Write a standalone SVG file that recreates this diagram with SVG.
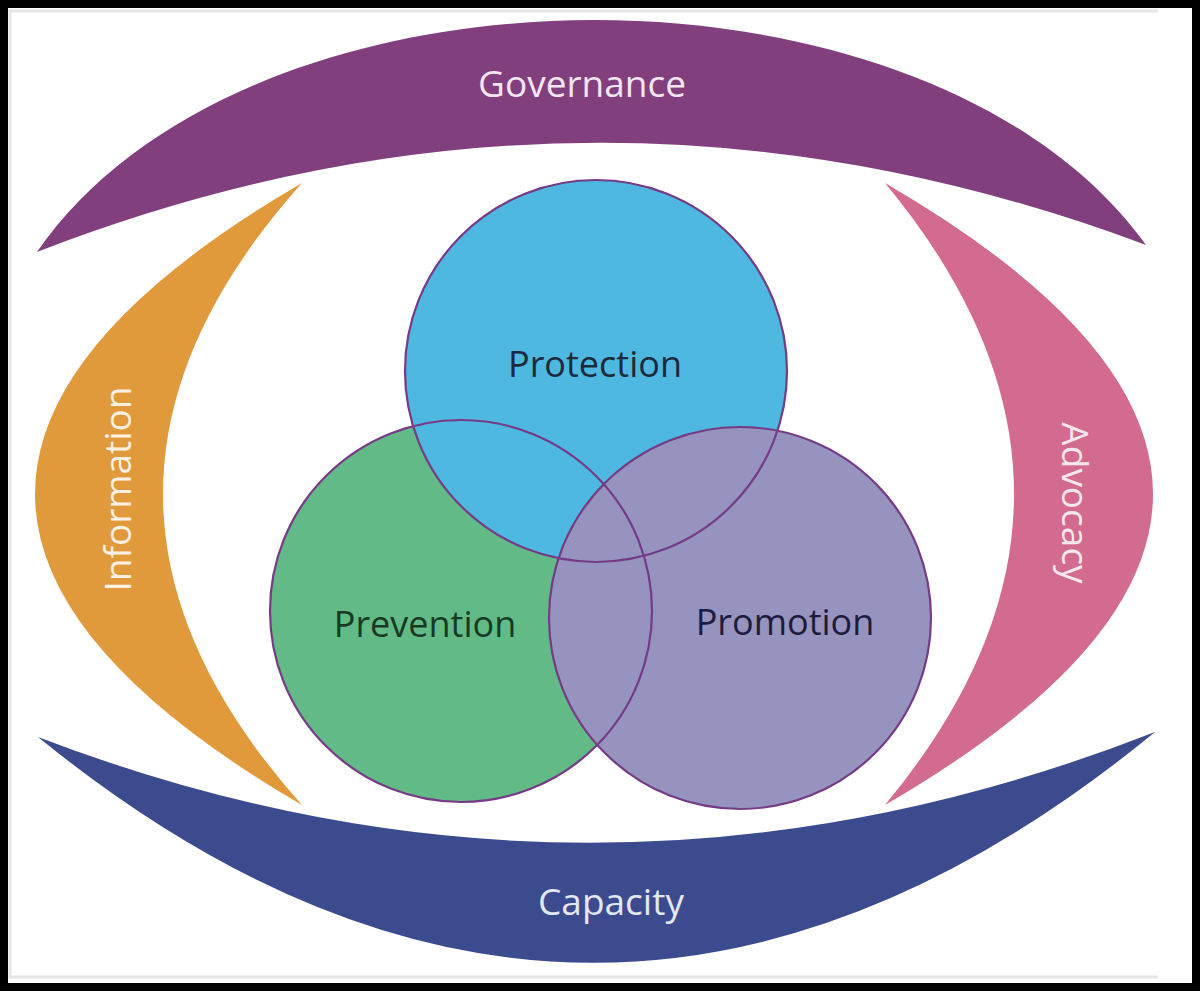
<svg xmlns="http://www.w3.org/2000/svg" width="1200" height="992" viewBox="0 0 1200 992">
  <style>
    .band-label { font-family: "Open Sans", "Noto Sans", "Liberation Sans", sans-serif; font-size: 37px; text-anchor: middle; }
    .core-label { font-family: "Open Sans", "Noto Sans", "Liberation Sans", sans-serif; font-size: 36px; text-anchor: middle; }
    .outline { fill: none; stroke: #763b86; stroke-width: 2.2; }
  </style>
  <rect x="0" y="0" width="1200" height="992" fill="#ffffff"/>
  <path d="M1158,11 H10 V977 H1158" fill="none" stroke="#e6e6e6" stroke-width="3"/>
  <rect x="4" y="4" width="1192" height="983" fill="none" stroke="#000000" stroke-width="8"/>

  <g id="governance">
    <path d="M37,252 C250,-56 930,-56 1146,245 Q591,37 37,252 Z" fill="#823f7e"/>
    <text class="band-label" x="582" y="97" fill="#f3e6f1">Governance</text>
  </g>
  <g id="information">
    <path d="M302,183 Q-232,494 302,805 Q24,494 302,183 Z" fill="#e19a3b"/>
    <text class="band-label" transform="translate(131,489) rotate(-90)" x="0" y="0" fill="#fbf0e2">Information</text>
  </g>
  <g id="advocacy">
    <path d="M885,183 Q1421,494 885,805 Q1143,494 885,183 Z" fill="#d26b8f"/>
    <text class="band-label" transform="translate(1062,503) rotate(90)" x="0" y="0" fill="#f8e6ee">Advocacy</text>
  </g>
  <g id="capacity">
    <path d="M38,737 Q596,1191 1155,732 Q596,951 38,737 Z" fill="#3c4a8e"/>
    <text class="band-label" x="611" y="915" fill="#e3e7f4">Capacity</text>
  </g>

  <g id="prevention">
    <circle cx="461" cy="611" r="191" fill="#62ba86"/>
  </g>
  <g id="protection">
    <circle cx="596" cy="371" r="191" fill="#4fb8e0"/>
  </g>
  <g id="promotion">
    <circle cx="740" cy="618" r="191" fill="#9693be"/>
  </g>

  <g id="connectors">
    <circle class="outline" cx="461" cy="611" r="191"/>
    <circle class="outline" cx="596" cy="371" r="191"/>
    <circle class="outline" cx="740" cy="618" r="191"/>
  </g>

  <g id="labels">
    <text class="core-label" x="595" y="377" fill="#1b2a3c">Protection</text>
    <text class="core-label" x="425" y="637" fill="#163a25">Prevention</text>
    <text class="core-label" x="785" y="635" fill="#1e1c3c">Promotion</text>
  </g>
</svg>
